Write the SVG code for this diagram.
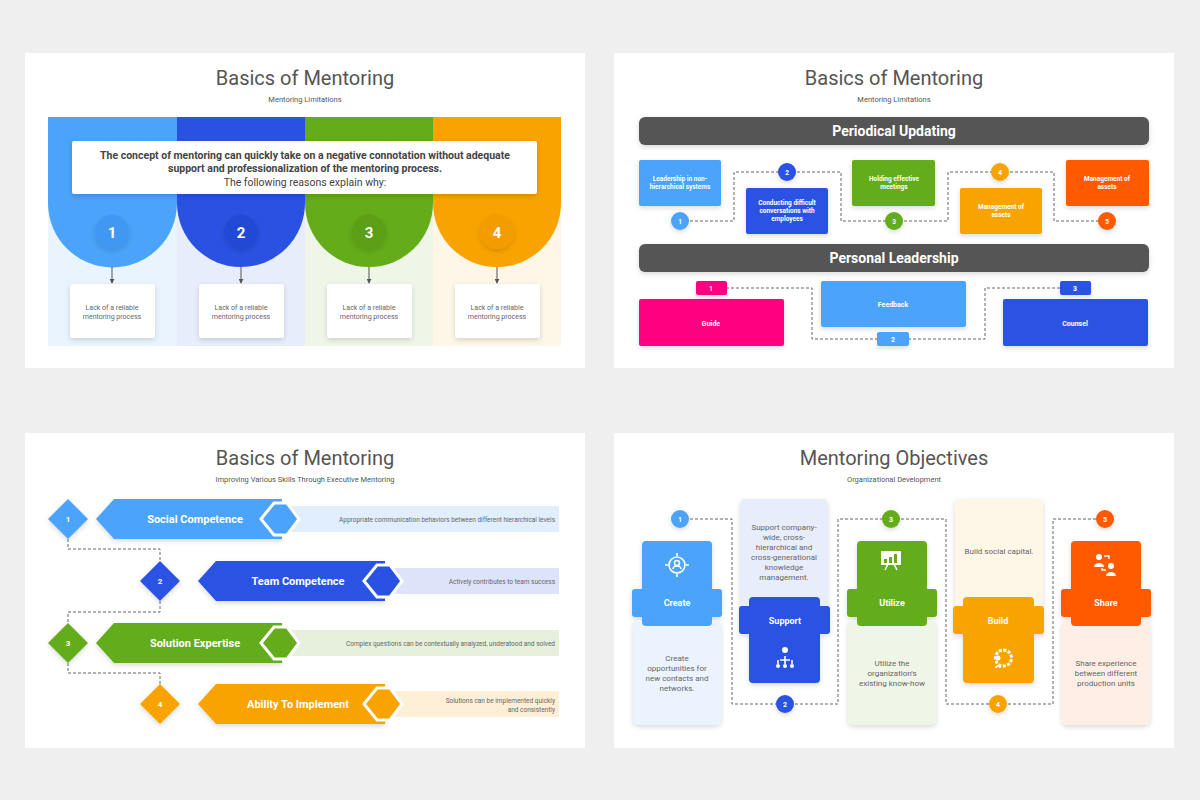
<svg xmlns="http://www.w3.org/2000/svg" width="1200" height="800" viewBox="0 0 1200 800">
<defs>
<filter id="sh" x="-20%" y="-20%" width="140%" height="150%"><feDropShadow dx="0" dy="2" stdDeviation="2.5" flood-color="#000" flood-opacity="0.15"/></filter>
<marker id="ar" viewBox="0 0 6 6" refX="5" refY="3" markerWidth="5" markerHeight="5" orient="auto"><path d="M0,0L6,3L0,6z" fill="#555"/></marker>
</defs>
<style>
text{font-family:Roboto,"Liberation Sans",sans-serif}
.t{font-size:20px;fill:#555;text-anchor:middle}
.st{font-size:7.5px;fill:#555;text-anchor:middle}
.w{fill:#fff;text-anchor:middle;font-weight:bold}
.g{fill:#666;text-anchor:middle}
.d{fill:none;stroke:#666;stroke-width:1;stroke-dasharray:3,2}
.panel{fill:#fff}
</style>
<rect width="1200" height="800" fill="#efefef"/>
<rect class="panel" x="25" y="53" width="560" height="315"/>
<rect class="panel" x="614" y="53" width="560" height="315"/>
<rect class="panel" x="25" y="433" width="560" height="315"/>
<rect class="panel" x="614" y="433" width="560" height="315"/>

<!-- Panel TL -->
<g id="tl">
<text class="t" x="305" y="85">Basics of Mentoring</text>
<text class="st" x="305" y="102">Mentoring Limitations</text>
<rect x="48" y="117" width="129" height="229" fill="#eaf4fe"/>
<rect x="177" y="117" width="128" height="229" fill="#e8edfb"/>
<rect x="305" y="117" width="128" height="229" fill="#eff6e8"/>
<rect x="433" y="117" width="128" height="229" fill="#fef6e6"/>
<path d="M48,117H177V203A64.5,64.5 0 0 1 48,203Z" fill="#4ba3fa"/>
<path d="M177,117H305V203A64,64 0 0 1 177,203Z" fill="#2952e3"/>
<path d="M305,117H433V203A64,64 0 0 1 305,203Z" fill="#64ac1a"/>
<path d="M433,117H561V203A64,64 0 0 1 433,203Z" fill="#f9a300"/>
<rect x="72" y="141" width="465" height="53" rx="2" fill="#fff" filter="url(#sh)"/>
<text x="305" y="159" text-anchor="middle" font-size="10.5" font-weight="bold" fill="#444">The concept of mentoring can quickly take on a negative connotation without adequate</text>
<text x="305" y="172" text-anchor="middle" font-size="10.5" font-weight="bold" fill="#444">support and professionalization of the mentoring process.</text>
<text x="305" y="186" text-anchor="middle" font-size="10.5" fill="#444">The following reasons explain why:</text>
<g filter="url(#sh)">
<circle cx="112" cy="232" r="17" fill="#3f98f2"/>
<circle cx="241" cy="232" r="17" fill="#2248d6"/>
<circle cx="369" cy="232" r="17" fill="#5a9f14"/>
<circle cx="497" cy="232" r="17" fill="#f29c00"/>
</g>
<g font-size="15">
<text class="w" x="112" y="238">1</text><text class="w" x="241" y="238">2</text><text class="w" x="369" y="238">3</text><text class="w" x="497" y="238">4</text>
</g>
<g stroke="#555" stroke-width="1" marker-end="url(#ar)">
<line x1="112" y1="267" x2="112" y2="283"/><line x1="241" y1="267" x2="241" y2="283"/><line x1="369" y1="267" x2="369" y2="283"/><line x1="497" y1="267" x2="497" y2="283"/>
</g>
<g filter="url(#sh)" fill="#fff">
<rect x="70" y="284" width="85" height="54" rx="3"/><rect x="199" y="284" width="85" height="54" rx="3"/><rect x="327" y="284" width="85" height="54" rx="3"/><rect x="455" y="284" width="85" height="54" rx="3"/>
</g>
<g font-size="7">
<text class="g" x="112" y="310">Lack of a reliable</text><text class="g" x="112" y="319">mentoring process</text>
<text class="g" x="241" y="310">Lack of a reliable</text><text class="g" x="241" y="319">mentoring process</text>
<text class="g" x="369" y="310">Lack of a reliable</text><text class="g" x="369" y="319">mentoring process</text>
<text class="g" x="497" y="310">Lack of a reliable</text><text class="g" x="497" y="319">mentoring process</text>
</g>
</g>

<!-- Panel TR -->
<g id="tr">
<text class="t" x="894" y="85">Basics of Mentoring</text>
<text class="st" x="894" y="102">Mentoring Limitations</text>
<g class="connectors">
<path class="d" d="M680,221H734V172H787"/>
<path class="d" d="M787,172H841V221H894"/>
<path class="d" d="M894,221H948V172H1000"/>
<path class="d" d="M1000,172H1054V221H1107"/>
<path class="d" d="M711,288H812V339H893"/>
<path class="d" d="M893,339H985V288H1075"/>
</g>
<rect x="639" y="117" width="510" height="28" rx="6" fill="#555" filter="url(#sh)"/>
<text class="w" x="894" y="136" font-size="14">Periodical Updating</text>
<g filter="url(#sh)">
<rect x="639" y="160" width="82" height="46" rx="2" fill="#4ba3fa"/>
<rect x="746" y="188" width="82" height="46" rx="2" fill="#2952e3"/>
<rect x="852" y="160" width="83" height="46" rx="2" fill="#64ac1a"/>
<rect x="960" y="188" width="82" height="46" rx="2" fill="#f9a300"/>
<rect x="1066" y="160" width="83" height="46" rx="2" fill="#ff5a00"/>
<circle cx="680" cy="221" r="9" fill="#4ba3fa"/>
<circle cx="787" cy="172" r="9" fill="#2952e3"/>
<circle cx="894" cy="221" r="9" fill="#64ac1a"/>
<circle cx="1000" cy="172" r="9" fill="#f9a300"/>
<circle cx="1107" cy="221" r="9" fill="#ff5a00"/>
</g>
<g font-size="6.5">
<text class="w" x="680" y="181">Leadership in non-</text><text class="w" x="680" y="189">hierarchical systems</text>
<text class="w" x="787" y="205">Conducting difficult</text><text class="w" x="787" y="213">conversations with</text><text class="w" x="787" y="221">employees</text>
<text class="w" x="894" y="181">Holding effective</text><text class="w" x="894" y="189">meetings</text>
<text class="w" x="1001" y="209">Management of</text><text class="w" x="1001" y="217">assets</text>
<text class="w" x="1107" y="181">Management of</text><text class="w" x="1107" y="189">assets</text>
<text class="w" x="680" y="224">1</text><text class="w" x="787" y="175">2</text><text class="w" x="894" y="224">3</text><text class="w" x="1000" y="175">4</text><text class="w" x="1107" y="224">5</text>
</g>
<rect x="639" y="244" width="510" height="28" rx="6" fill="#555" filter="url(#sh)"/>
<text class="w" x="894" y="263" font-size="14">Personal Leadership</text>
<g filter="url(#sh)">
<rect x="639" y="299" width="145" height="47" rx="2" fill="#ff0080"/>
<rect x="821" y="281" width="145" height="46" rx="2" fill="#4ba3fa"/>
<rect x="1003" y="299" width="145" height="47" rx="2" fill="#2952e3"/>
<rect x="696" y="281" width="31" height="14" rx="2" fill="#ff0080"/>
<rect x="877" y="332" width="32" height="14" rx="2" fill="#4ba3fa"/>
<rect x="1060" y="281" width="31" height="14" rx="2" fill="#2952e3"/>
</g>
<g font-size="7">
<text class="w" x="711" y="326">Guide</text><text class="w" x="893" y="307">Feedback</text><text class="w" x="1075" y="326">Counsel</text>
<text class="w" x="711" y="291">1</text><text class="w" x="893" y="342">2</text><text class="w" x="1075" y="291">3</text>
</g>
</g>

<!-- Panel BL -->
<g id="bl">
<text class="t" x="305" y="465">Basics of Mentoring</text>
<text class="st" x="305" y="482">Improving Various Skills Through Executive Mentoring</text>
<g class="connectors">
<path class="d" d="M68,539V549H160V561"/>
<path class="d" d="M160,601V612H68V623"/>
<path class="d" d="M68,663V673H160V684"/>
</g>
<rect x="285" y="506" width="274" height="26" fill="#e1eefd"/>
<rect x="388" y="568" width="171" height="26" fill="#dde4f9"/>
<rect x="285" y="630" width="274" height="26" fill="#e6f0dc"/>
<rect x="388" y="691" width="171" height="26" fill="#fdefd6"/>
<g filter="url(#sh)">
<polygon points="48,519 68,499 88,519 68,539" fill="#4ba3fa"/>
<polygon points="140,581 160,561 180,581 160,601" fill="#2952e3"/>
<polygon points="48,643 68,623 88,643 68,663" fill="#64ac1a"/>
<polygon points="140,704 160,684 180,704 160,724" fill="#f9a300"/>
<polygon points="96,519 114,499 282,499 282,539 114,539" fill="#4ba3fa"/>
<polygon points="198,581 216,561 385,561 385,601 216,601" fill="#2952e3"/>
<polygon points="96,643 114,623 282,623 282,663 114,663" fill="#64ac1a"/>
<polygon points="198,704 216,684 385,684 385,724 216,724" fill="#f9a300"/>
</g>
<g stroke="#fff" stroke-width="3">
<polygon points="261,519 274,503 287,503 299,519 287,535 274,535" fill="#4ba3fa"/>
<polygon points="364,581 377,565 390,565 402,581 390,597 377,597" fill="#2952e3"/>
<polygon points="261,643 274,627 287,627 299,643 287,659 274,659" fill="#64ac1a"/>
<polygon points="364,704 377,688 390,688 402,704 390,720 377,720" fill="#f9a300"/>
</g>
<g font-size="8">
<text class="w" x="68" y="522">1</text><text class="w" x="160" y="584">2</text><text class="w" x="68" y="646">3</text><text class="w" x="160" y="707">4</text>
</g>
<g font-size="11">
<text class="w" x="195" y="523">Social Competence</text>
<text class="w" x="298" y="585">Team Competence</text>
<text class="w" x="195" y="647">Solution Expertise</text>
<text class="w" x="298" y="708">Ability To Implement</text>
</g>
<g font-size="6.5" fill="#666" text-anchor="end">
<text x="555" y="522">Appropriate communication behaviors between different hierarchical levels</text>
<text x="555" y="584">Actively contributes to team success</text>
<text x="555" y="646">Complex questions can be contextually analyzed, underatood and solved</text>
<text x="555" y="703">Solutions can be implemented quickly</text>
<text x="555" y="712">and consistently</text>
</g>
</g>

<!-- Panel BR -->
<g id="br">
<text class="t" x="894" y="465">Mentoring Objectives</text>
<text class="st" x="894" y="482">Organizational Development</text>
<g class="connectors">
<path class="d" d="M680,519H732V704H785"/>
<path class="d" d="M785,704H838V519H891"/>
<path class="d" d="M891,519H946V704H998"/>
<path class="d" d="M998,704H1053V519H1105"/>
</g>
<g filter="url(#sh)">
<rect x="633" y="620" width="88" height="105" rx="5" fill="#eaf3fe"/>
<rect x="740" y="499" width="88" height="111" rx="5" fill="#e8edfb"/>
<rect x="848" y="620" width="88" height="105" rx="5" fill="#eff6e8"/>
<rect x="955" y="499" width="88" height="111" rx="5" fill="#fef6e6"/>
<rect x="1062" y="620" width="88" height="105" rx="5" fill="#feeee6"/>
<rect x="642" y="541" width="70" height="85" rx="4" fill="#4ba3fa"/>
<rect x="749" y="597" width="71" height="86" rx="4" fill="#2952e3"/>
<rect x="857" y="541" width="70" height="85" rx="4" fill="#64ac1a"/>
<rect x="963" y="597" width="71" height="86" rx="4" fill="#f9a300"/>
<rect x="1071" y="541" width="70" height="85" rx="4" fill="#ff5a00"/>
<rect x="632" y="589" width="90" height="28" rx="3" fill="#4ba3fa"/>
<rect x="739" y="606" width="91" height="28" rx="3" fill="#2952e3"/>
<rect x="847" y="589" width="90" height="28" rx="3" fill="#64ac1a"/>
<rect x="953" y="606" width="91" height="28" rx="3" fill="#f9a300"/>
<rect x="1061" y="589" width="90" height="28" rx="3" fill="#ff5a00"/>
<circle cx="680" cy="519" r="9" fill="#4ba3fa"/>
<circle cx="785" cy="704" r="9" fill="#2952e3"/>
<circle cx="891" cy="519" r="9" fill="#64ac1a"/>
<circle cx="998" cy="704" r="9" fill="#f9a300"/>
<circle cx="1105" cy="519" r="9" fill="#ff5a00"/>
</g>
<g font-size="7">
<text class="w" x="680" y="522">1</text><text class="w" x="785" y="707">2</text><text class="w" x="891" y="522">3</text><text class="w" x="998" y="707">4</text><text class="w" x="1105" y="522">5</text>
</g>
<g font-size="9">
<text class="w" x="677" y="606">Create</text><text class="w" x="785" y="624">Support</text><text class="w" x="892" y="606">Utilize</text><text class="w" x="998" y="624">Build</text><text class="w" x="1106" y="606">Share</text>
</g>
<g font-size="8" fill="#666" text-anchor="middle">
<text x="677" y="661">Create</text><text x="677" y="671">opportunities for</text><text x="677" y="681">new contacts and</text><text x="677" y="691">networks.</text>
<text x="784" y="530">Support company-</text><text x="784" y="540">wide, cross-</text><text x="784" y="550">hierarchical and</text><text x="784" y="560">cross-generational</text><text x="784" y="570">knowledge</text><text x="784" y="580">management.</text>
<text x="892" y="666">Utilize the</text><text x="892" y="676">organization's</text><text x="892" y="686">existing know-how</text>
<text x="999" y="554">Build social capital.</text>
<text x="1106" y="666">Share experience</text><text x="1106" y="676">between different</text><text x="1106" y="686">production units</text>
</g>
<!-- icons -->
<g fill="none" stroke="#fff" stroke-width="1.6">
<circle cx="677" cy="565" r="8"/><circle cx="677" cy="563" r="2.5"/><path d="M673,569a4,3 0 0 1 8,0"/>
<path d="M677,553v3M677,574v3M665,565h3M686,565h3"/>
<path d="M780,660h10M785,656v4M778,660v4M785,660v4M792,660v4"/>
<path d="M1003.5,650a8,8 0 1 1 -0.01,0z" stroke-dasharray="3,1.5" stroke-width="3"/>
<path d="M996,668a2,2 0 0 1 4,0"/>
<path d="M888,564l-3,6M894,564l3,6"/>
</g>
<g fill="#fff">
<circle cx="785" cy="650" r="3"/><circle cx="778" cy="666" r="2"/><circle cx="785" cy="666" r="2"/><circle cx="792" cy="666" r="2"/>
<rect x="881" y="551" width="20" height="14"/>
<circle cx="998" cy="658" r="2.5"/>
<circle cx="1099" cy="557" r="3"/><path d="M1094,567a5,4 0 0 1 10,0z"/>
<circle cx="1111" cy="566" r="3"/><path d="M1106,576a5,4 0 0 1 10,0z"/>
</g>
<g fill="#64ac1a"><rect x="884" y="559" width="3" height="4"/><rect x="889" y="557" width="3" height="6"/><rect x="894" y="554" width="3" height="9"/></g>
<path d="M1104,556h5v3M1106,570h-4v-2" fill="none" stroke="#fff" stroke-width="1.3"/>
</g>
</svg>
